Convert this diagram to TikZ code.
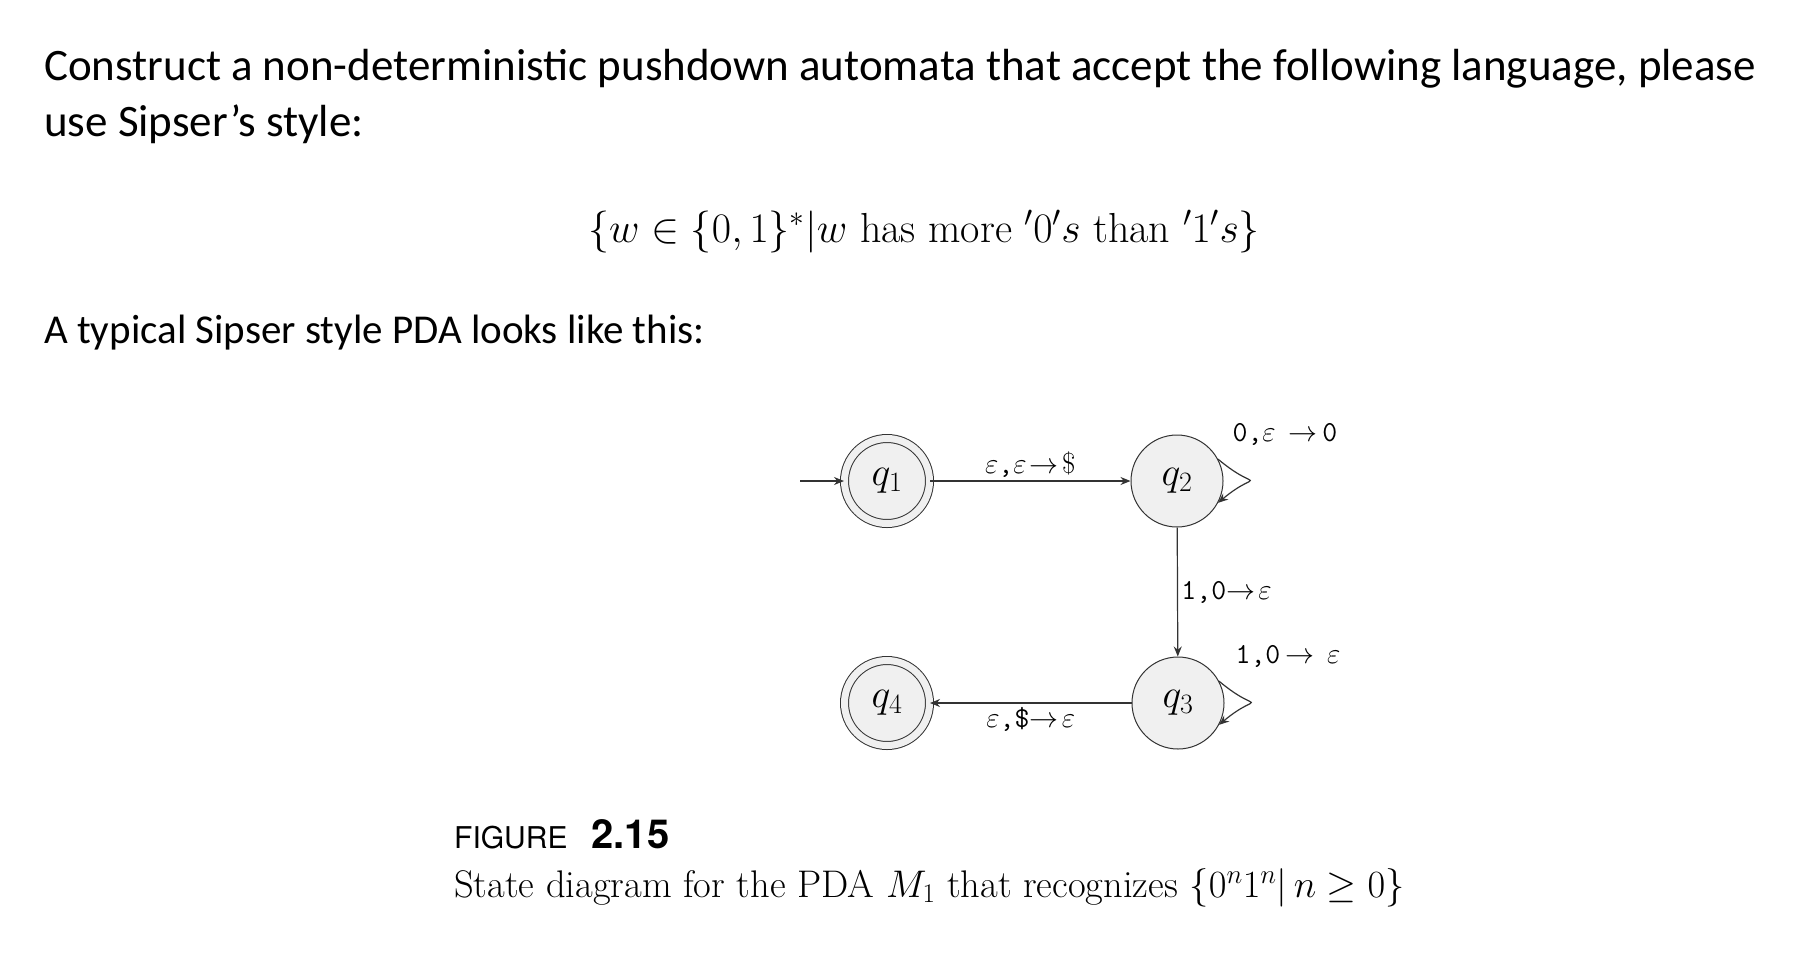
\RequirePackage{fix-cm}
\documentclass[tikz,border=0pt]{standalone}
\usepackage{fontspec}
\setmainfont{Carlito}
\newfontfamily\serifx{Latin Modern Roman}
\newfontfamily\monox{Latin Modern Mono}
\newfontfamily\sansx{TeX Gyre Heros}
\usetikzlibrary{arrows.meta}
\begin{document}
\begin{tikzpicture}[x=1pt,y=-1pt,
  st/.style={circle,draw=black!80,line width=1pt,fill=black!6,minimum size=92pt,inner sep=0pt,font=\fontsize{40}{40}\selectfont},
  acc/.style={st,double=black!6,double distance=7pt,minimum size=85pt},
  lab/.style={font=\monox\fontsize{29}{29}\selectfont},
  ed/.style={draw=black!80,line width=1.2pt,-{Stealth[length=10pt,width=8pt]}},
  txt/.style={anchor=base west,inner sep=0pt}]
\useasboundingbox (0,0) rectangle (1802,970);
\node[txt,font=\fontsize{45}{45}\selectfont] (t1) at (44,80) {Construct a non-deterministic pushdown automata that accept the following language, please};
\node[txt,font=\fontsize{45}{45}\selectfont] (t2) at (44,136) {use Sipser’s style:};
\node[font=\serifx\fontsize{42}{42}\selectfont,anchor=base] (f) at (924,242) {$\{w\in\{0,1\}^*|w$ has more $'0's$ than $'1's\}$};
\node[txt,font=\fontsize{41}{41}\selectfont] (t3) at (44,343) {A typical Sipser style PDA looks like this:};
\node[acc] (q1) at (887,481) {$q_1$};
\node[st] (q2) at (1177,481) {$q_2$};
\node[st] (q3) at (1178,703) {$q_3$};
\node[acc] (q4) at (887,703) {$q_4$};
\coordinate (s) at (800,481);
\draw[ed] (s) -- (q1);
\draw[ed] (q1) -- node[lab,above] (l1) {$\varepsilon$,$\varepsilon\!\rightarrow\!\$$} (q2);
\draw[ed] (q2) -- node[lab,right] (l2) {1,0$\rightarrow\!\varepsilon$} (q3);
\draw[ed] (q3) -- node[lab,below] (l3) {$\varepsilon$,\$$\rightarrow\!\varepsilon$} (q4);
\draw[ed] (q2.28) .. controls +(40:55) and +(-40:55) .. (q2.-28);
\draw[ed] (q3.28) .. controls +(40:55) and +(-40:55) .. (q3.-28);
\node[lab] (l4) at (1285,434) {0,$\varepsilon\,\rightarrow\,$0};
\node[lab] (l5) at (1288,656) {1,0$\,\rightarrow\,\varepsilon$};
\node[txt,font=\sansx\fontsize{30}{30}\selectfont] (fig) at (454,848) {FIGURE\hspace{0.8em}{\bfseries\fontsize{40}{40}\selectfont 2.15}};
\node[txt,font=\serifx\fontsize{38.5}{38.5}\selectfont] (cap) at (454,897) {State diagram for the PDA $M_1$ that recognizes $\{0^n1^n|\,n\ge 0\}$};
\end{tikzpicture}
\end{document}
